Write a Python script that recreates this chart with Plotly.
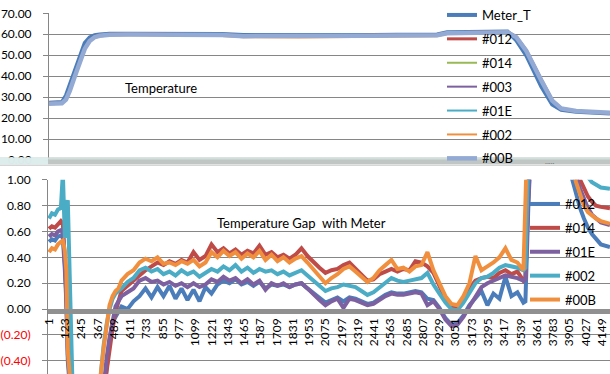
import plotly.graph_objects as go

W, H = 610, 374

# ---------------- top chart data (Temperature) ----------------
x_top = [1, 98, 128, 157, 195, 232, 269, 306, 343, 381, 455, 604, 900, 1125, 1300, 1460,
         1870, 2200, 2428, 2614, 2912, 2987, 3210, 3441, 3508, 3582, 3694, 3776, 3843, 3955, 4209]
meter_t = [27.3, 27.7, 30.8, 36.0, 43.5, 50.5, 55.8, 58.5, 59.5, 59.9, 60.2, 60.3, 60.4, 60.3, 60.1, 59.7,
           59.5, 59.6, 59.7, 59.8, 59.9, 60.9, 61.3, 61.3, 57.0, 49.8, 35.0, 26.5, 24.0, 23.0, 22.2]
t_012 = [27.1, 27.3, 29.0, 33.4, 40.5, 47.5, 53.4, 57.1, 58.9, 59.5, 60.0, 60.1, 60.1, 60.0, 59.8, 59.3,
         59.2, 59.3, 59.5, 59.6, 59.7, 60.7, 61.1, 61.2, 58.7, 52.4, 38.5, 28.6, 24.4, 23.2, 22.3]
t_014 = [27.0, 27.2, 28.9, 33.2, 40.2, 47.2, 53.2, 56.9, 58.7, 59.4, 59.9, 60.0, 60.1, 60.0, 59.7, 59.2,
         59.1, 59.2, 59.4, 59.5, 59.6, 60.6, 61.0, 61.1, 58.6, 52.2, 38.2, 28.4, 24.5, 23.3, 22.4]
t_003 = [26.9, 27.1, 28.7, 32.9, 39.9, 46.9, 52.9, 56.7, 58.5, 59.2, 59.7, 59.8, 59.9, 59.8, 59.5, 59.0,
         58.9, 59.0, 59.2, 59.3, 59.4, 60.4, 60.8, 60.9, 58.4, 51.9, 37.9, 28.2, 24.4, 23.2, 22.3]
t_01e = [27.2, 27.4, 29.1, 33.5, 40.6, 47.6, 53.5, 57.2, 59.0, 59.6, 60.1, 60.2, 60.2, 60.1, 59.9, 59.4,
         59.3, 59.4, 59.6, 59.7, 59.8, 60.8, 61.2, 61.3, 58.8, 52.5, 38.6, 28.7, 24.6, 23.4, 22.4]
t_002 = [26.6, 26.8, 28.4, 32.6, 39.6, 46.6, 52.6, 56.4, 58.2, 58.9, 59.4, 59.5, 59.6, 59.4, 59.2, 58.6,
         58.5, 58.7, 58.9, 59.0, 59.1, 60.1, 60.6, 60.7, 58.6, 52.3, 38.6, 28.8, 24.9, 23.6, 22.6]
t_00b = [26.9, 27.1, 28.8, 33.0, 40.0, 47.0, 53.0, 56.8, 58.6, 59.3, 59.8, 59.9, 60.0, 59.9, 59.6, 59.1,
         59.0, 59.1, 59.3, 59.4, 59.5, 60.5, 60.9, 61.0, 58.5, 52.0, 38.0, 28.3, 24.6, 23.4, 22.5]
top_ticks = [0, 10, 20, 30, 40, 50, 60, 70]

# ---------------- bottom chart data (Temperature Gap with Meter) ----------------
x_gap = [1, 23, 46, 68, 90, 105, 120, 131, 142, 157, 180,
         232, 306,
         366, 388, 411, 433, 455, 478, 500, 522,
         545, 590, 635, 680, 725, 770, 815, 860, 905, 950, 995, 1040, 1085, 1130, 1175, 1220, 1265,
         1310, 1355, 1400, 1445, 1490, 1535, 1580, 1625, 1670, 1715, 1760, 1805, 1850, 1895, 1940,
         1985, 2030, 2075, 2120, 2165, 2210, 2255, 2300, 2345, 2390, 2435, 2480, 2525, 2570, 2615,
         2660, 2705, 2750, 2795, 2840, 2885, 2930, 2975, 3020, 3065, 3110, 3155, 3200, 3245, 3290,
         3335, 3380, 3425, 3470, 3515, 3560,
         3575, 3597, 3627, 3694, 3806, 3895, 3925, 3955, 3985, 4014, 4044, 4074, 4104, 4141, 4209]

g_012 = [0.52, 0.54, 0.53, 0.56, 0.57, 0.55, 0.30, 0.05, -0.40, -0.90, -1.40,
         -1.60, -1.70,
         -1.10, -0.85, -0.62, -0.42, -0.25, -0.10, -0.06, -0.03,
         0.02, 0.00, 0.06, 0.10, 0.16, 0.09, 0.17, 0.10, 0.18, 0.08, 0.16, 0.07, 0.15, 0.06, 0.17, 0.12, 0.19,
         0.22, 0.20, 0.23, 0.19, 0.21, 0.18, 0.21, 0.16, 0.19, 0.18, 0.19, 0.17, 0.19, 0.20, 0.16,
         0.12, 0.08, 0.05, 0.07, 0.09, 0.06, 0.09, 0.08, 0.06, 0.04, 0.05, 0.08, 0.11, 0.13, 0.12,
         0.12, 0.13, 0.14, 0.13, 0.08, 0.07, 0.01, -0.07, -0.12, -0.11, -0.05, 0.03, 0.09, 0.14, 0.03,
         0.12, 0.08, 0.25, 0.10, 0.13, 0.05,
         0.06, 0.80, 1.50, 1.70, 1.50, 1.12, 1.00, 0.90, 0.78, 0.70, 0.63, 0.58, 0.54, 0.50, 0.48]
g_014 = [0.62, 0.64, 0.63, 0.66, 0.68, 0.66, 0.40, 0.15, -0.30, -0.85, -1.35,
         -1.60, -1.70,
         -1.10, -0.85, -0.65, -0.48, -0.30, -0.15, -0.02, 0.06,
         0.14, 0.18, 0.22, 0.27, 0.30, 0.33, 0.36, 0.34, 0.37, 0.35, 0.38, 0.36, 0.44, 0.38, 0.41, 0.50, 0.44,
         0.47, 0.43, 0.46, 0.42, 0.45, 0.43, 0.49, 0.42, 0.44, 0.40, 0.42, 0.39, 0.42, 0.47, 0.41,
         0.36, 0.32, 0.28, 0.30, 0.31, 0.34, 0.36, 0.31, 0.27, 0.22, 0.23, 0.27, 0.29, 0.31, 0.29,
         0.31, 0.30, 0.37, 0.36, 0.33, 0.28, 0.18, 0.08, 0.02, 0.01, 0.08, 0.16, 0.22, 0.24, 0.25,
         0.24, 0.28, 0.30, 0.27, 0.29, 0.22,
         0.24, 0.90, 1.60, 1.80, 1.70, 1.30, 1.18, 1.08, 1.00, 0.93, 0.87, 0.83, 0.80, 0.79, 0.78]
g_01e = [0.56, 0.58, 0.57, 0.60, 0.61, 0.59, 0.35, 0.10, -0.35, -0.90, -1.40,
         -1.60, -1.70,
         -1.05, -0.80, -0.55, -0.38, -0.22, -0.08, 0.02, 0.06,
         0.10, 0.13, 0.16, 0.22, 0.24, 0.21, 0.22, 0.19, 0.21, 0.18, 0.20, 0.17, 0.20, 0.17, 0.19, 0.23, 0.21,
         0.25, 0.22, 0.24, 0.20, 0.23, 0.19, 0.22, 0.15, 0.20, 0.18, 0.20, 0.17, 0.19, 0.20, 0.16,
         0.11, 0.07, 0.03, 0.06, 0.08, 0.01, 0.08, 0.07, 0.05, 0.03, 0.04, 0.07, 0.10, 0.12, 0.11,
         0.11, 0.12, 0.13, 0.12, 0.03, 0.06, 0.00, -0.08, -0.13, -0.12, -0.06, 0.02, 0.10, 0.17, 0.20,
         0.22, 0.24, 0.26, 0.25, 0.24, 0.22,
         0.23, 0.85, 1.55, 1.80, 1.70, 1.25, 1.12, 1.02, 0.93, 0.85, 0.78, 0.73, 0.70, 0.67, 0.65]
g_002 = [0.70, 0.74, 0.73, 0.77, 0.78, 1.05, 0.55, 0.80, 0.84, 0.20, -0.70,
         -1.50, -1.60,
         -0.75, -0.48, -0.28, -0.12, 0.00, 0.08, 0.12, 0.14,
         0.16, 0.21, 0.24, 0.30, 0.32, 0.29, 0.31, 0.27, 0.29, 0.26, 0.30, 0.27, 0.29, 0.25, 0.28, 0.31, 0.29,
         0.33, 0.30, 0.34, 0.29, 0.32, 0.28, 0.31, 0.29, 0.30, 0.27, 0.29, 0.26, 0.28, 0.30, 0.26,
         0.22, 0.17, 0.14, 0.16, 0.17, 0.19, 0.18, 0.17, 0.14, 0.11, 0.13, 0.17, 0.21, 0.24, 0.22,
         0.21, 0.22, 0.23, 0.24, 0.28, 0.19, 0.12, 0.05, 0.00, -0.01, 0.05, 0.12, 0.20, 0.24, 0.25,
         0.28, 0.32, 0.34, 0.33, 0.32, 0.30,
         0.32, 1.20, 1.70, 1.90, 1.80, 1.50, 1.35, 1.25, 1.15, 1.08, 1.02, 0.98, 0.96, 0.94, 0.93]
g_00b = [0.44, 0.47, 0.46, 0.50, 0.52, 0.53, 0.45, 0.30, -0.32, -0.70, -1.30,
         -1.50, -1.60,
         -0.80, -0.52, -0.30, -0.12, 0.03, 0.10, 0.14, 0.16,
         0.22, 0.27, 0.30, 0.36, 0.39, 0.37, 0.40, 0.35, 0.36, 0.34, 0.37, 0.35, 0.38, 0.33, 0.36, 0.44, 0.40,
         0.45, 0.41, 0.44, 0.39, 0.43, 0.40, 0.45, 0.38, 0.42, 0.37, 0.40, 0.36, 0.39, 0.41, 0.36,
         0.31, 0.26, 0.20, 0.24, 0.27, 0.31, 0.33, 0.29, 0.25, 0.21, 0.24, 0.30, 0.34, 0.38, 0.31,
         0.32, 0.29, 0.33, 0.34, 0.44, 0.30, 0.20, 0.10, 0.04, 0.03, 0.10, 0.20, 0.41, 0.30, 0.33,
         0.36, 0.40, 0.47, 0.38, 0.36, 0.30,
         1.40, 1.60, 1.70, 1.80, 1.60, 1.25, 1.10, 0.98, 0.88, 0.80, 0.75, 0.72, 0.70, 0.68, 0.66]

gap_tick_vals = [-0.4, -0.2, 0.0, 0.2, 0.4, 0.6, 0.8, 1.0]
gap_tick_text = ['(0.40)', '(0.20)', '0.00', '0.20', '0.40', '0.60', '0.80', '1.00']
cat_tick_vals = [1, 123, 245, 367, 489, 611, 733, 855, 977, 1099, 1221, 1343, 1465, 1587, 1709,
                 1831, 1953, 2075, 2197, 2319, 2441, 2563, 2685, 2807, 2929, 3051, 3173, 3295,
                 3417, 3539, 3661, 3783, 3905, 4027, 4149]

# ---------------- styling ----------------
BLUE, RED, GREEN, PURPLE, TEAL, ORANGE, LBLUE = (
    '#4A7DBA', '#BE4B48', '#98B954', '#7D60A0', '#4BACC6', '#F0903F', '#93AAD4')
GRID = '#868686'
FONT = 'Lato, Carlito, Calibri, sans-serif'


def py(p):
    return 1 - p / H


fig = go.Figure()

top_series = [('Meter_T', meter_t, BLUE, 4), ('#012', t_012, RED, 3), ('#014', t_014, GREEN, 2),
              ('#003', t_003, PURPLE, 2), ('#01E', t_01e, TEAL, 2), ('#002', t_002, ORANGE, 2),
              ('#00B', t_00b, LBLUE, 4.5)]
for name, vals, col, w in top_series:
    fig.add_trace(go.Scatter(x=x_top, y=vals, name=name, mode='lines', line=dict(color=col, width=w),
                             xaxis='x', yaxis='y', legend='legend', legendgroup='t' + name))

bottom_series = [('#012', g_012, BLUE), ('#014', g_014, RED), ('#01E', g_01e, PURPLE),
                 ('#002', g_002, TEAL), ('#00B', g_00b, ORANGE)]
for name, vals, col in bottom_series:
    fig.add_trace(go.Scatter(x=x_gap, y=vals, name=name, mode='lines', line=dict(color=col, width=4),
                             xaxis='x2', yaxis='y2', legend='legend2', legendgroup='b' + name))

tick_font = dict(family=FONT, size=12, color='#000000')
cat_px = 0.1333  # pixels per category

fig.update_layout(
    width=W, height=H, autosize=False,
    margin=dict(l=0, r=0, t=0, b=0, pad=0, autoexpand=False),
    paper_bgcolor='white', plot_bgcolor='white',
    font=dict(family=FONT, size=13, color='#000000'),
    showlegend=True,
    xaxis=dict(domain=[49 / W, 1], range=[1, 1 + (W - 49) / cat_px], anchor='y',
               showgrid=False, zeroline=False, showline=False, showticklabels=False, ticks=''),
    yaxis=dict(domain=[py(160), py(13.3)], range=[0, 70], anchor='x',
               tickvals=top_ticks, ticktext=['%.2f' % v for v in top_ticks], tickfont=tick_font,
               showgrid=True, gridcolor=GRID, gridwidth=1, zeroline=False,
               showline=True, linecolor=GRID, linewidth=1, automargin=False,
               ticks='outside', ticklen=5, tickcolor=GRID, ticklabelstandoff=9),
    xaxis2=dict(domain=[48 / W, 1], range=[1 - 1 / cat_px, 1 + (W - 49) / cat_px],
                anchor='free', position=py(310.5), automargin=False,
                tickvals=cat_tick_vals, ticktext=[str(v) for v in cat_tick_vals],
                tickangle=-90, tickfont=tick_font, ticks='', ticklabeloverflow='allow',
                showgrid=False, zeroline=False, showline=True, linecolor='#909090', linewidth=5),
    yaxis2=dict(domain=[0, py(179.7)], range=[-0.5015, 1.0], anchor='x2', automargin=False,
                tickvals=gap_tick_vals,
                ticktext=[('<span style="color:#FF0000">%s</span>' % t) if v < 0 else t
                          for v, t in zip(gap_tick_vals, gap_tick_text)],
                tickfont=tick_font,
                showgrid=True, gridcolor=GRID, gridwidth=1, zeroline=False,
                showline=True, linecolor=GRID, linewidth=1,
                ticks='outside', ticklen=5, tickcolor=GRID, ticklabelstandoff=9),
    legend=dict(x=442 / W, y=py(0), xanchor='left', yanchor='top', bgcolor='rgba(0,0,0,0)',
                font=dict(family=FONT, size=13, color='#000000'), tracegroupgap=4,
                traceorder='grouped'),
    legend2=dict(x=525 / W, y=py(189), xanchor='left', yanchor='top', bgcolor='rgba(0,0,0,0)',
                 font=dict(family=FONT, size=13, color='#000000'), tracegroupgap=4,
                 traceorder='grouped'),
    annotations=[
        dict(text='Temperature', x=123 / W, y=py(88), xref='paper', yref='paper',
             xanchor='left', yanchor='middle', showarrow=False, font=dict(family=FONT, size=13)),
        dict(text='Temperature Gap\u00a0 with Meter', x=215 / W, y=py(222.5), xref='paper', yref='paper',
             xanchor='left', yanchor='middle', showarrow=False, font=dict(family=FONT, size=13)),
        dict(text='.....', x=550 / W, y=py(161), xref='paper', yref='paper',
             xanchor='center', yanchor='middle', showarrow=False,
             font=dict(family=FONT, size=8, color='#6E6E6E')),
    ],
    shapes=[
        dict(type='rect', xref='paper', yref='paper', x0=0, x1=1, y0=py(164.5), y1=py(157.5),
             fillcolor='#B8C0BE', opacity=0.9, line=dict(width=0), layer='above'),
        dict(type='rect', xref='paper', yref='paper', x0=0, x1=48 / W, y0=py(164.5), y1=py(157.5),
             fillcolor='#E2F3F3', opacity=0.85, line=dict(width=0), layer='above'),
        dict(type='rect', xref='paper', yref='paper', x0=48 / W, x1=1, y0=py(159.5), y1=py(157.5),
             fillcolor='#D3E0DE', opacity=0.9, line=dict(width=0), layer='above'),
        dict(type='line', xref='paper', yref='paper', x0=0, x1=1, y0=py(165.5), y1=py(165.5),
             line=dict(color='#D6D6D6', width=1), layer='above'),
    ],
)

fig.write_html('out.html', config={'displayModeBar': False},
               post_script="document.body.style.margin='0';document.body.style.overflow='hidden';")
